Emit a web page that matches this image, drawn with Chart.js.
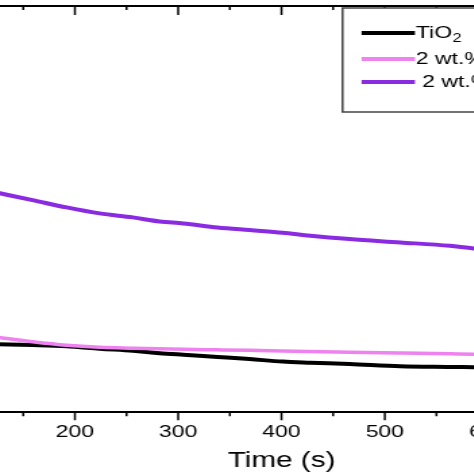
<!DOCTYPE html>
<html>
<head>
<meta charset="utf-8">
<script src="https://cdn.jsdelivr.net/npm/chart.js@4.4.1/dist/chart.umd.min.js"></script>
<style>
html, body { margin: 0; padding: 0; background: #fff; }
#wrap { position: relative; width: 474px; height: 474px; overflow: hidden; }
/* the reference is a stretched crop of a wider figure */
#c { position: absolute; left: -49.9px; top: 0; transform: scaleX(1.35); transform-origin: 0 0; }
</style>
</head>
<body>
<div id="wrap"><canvas id="c" width="491" height="474"></canvas></div>
<script>
// time axis (s)
const timeS = [125, 159, 192, 224, 256, 282, 305, 338, 369, 401, 428, 466, 515, 563, 586, 600];

// signal (arbitrary units, y axis is cropped away in the reference)
const tio2Values   = [0.68, 0.672, 0.66, 0.635, 0.613, 0.59, 0.574, 0.552, 0.531, 0.506, 0.495, 0.482, 0.46, 0.453, 0.45, 0.448];
const pinkValues   = [0.75, 0.705, 0.67, 0.65, 0.64, 0.633, 0.628, 0.623, 0.618, 0.612, 0.607, 0.60, 0.592, 0.584, 0.58, 0.578];
const purpleValues = [2.193, 2.12, 2.047, 1.987, 1.947, 1.907, 1.887, 1.847, 1.82, 1.793, 1.763, 1.73, 1.697, 1.663, 1.637, 1.63];

const seriesLabels = ['TiO\u2082', '2 wt.%', ' 2 wt.%'];
const seriesColors = ['#000000', '#ee82ee', '#8a2be2'];

const xTicks = [100, 200, 300, 400, 500, 600, 700];
const xTitle = 'Time (s)';

const FONT = '"Liberation Sans", Arial, sans-serif';

function toPoints(values) {
    return values.map((v, i) => ({ x: timeS[i], y: v }));
}

const frameTicks = {
    id: 'frameTicks',
    afterDatasetsDraw(chart) {
        const ctx = chart.ctx;
        const { top, bottom, left, right } = chart.chartArea;
        const xs = chart.scales.x;
        ctx.save();
        ctx.strokeStyle = '#000';
        ctx.lineWidth = 2;
        ctx.beginPath();
        ctx.moveTo(left, top); ctx.lineTo(right, top);
        ctx.moveTo(left, top); ctx.lineTo(left, bottom);
        ctx.moveTo(right, top); ctx.lineTo(right, bottom);
        ctx.stroke();
        ctx.lineWidth = 1.5;
        ctx.beginPath();
        for (let v = xs.min; v <= xs.max; v += 50) {
            const px = xs.getPixelForValue(v);
            const major = v % 100 === 0;
            ctx.moveTo(px, bottom); ctx.lineTo(px, bottom + (major ? 8 : 4));
            ctx.moveTo(px, top); ctx.lineTo(px, top + (major ? 9 : 4));
        }
        ctx.stroke();
        ctx.restore();
    }
};

const boxLegend = {
    id: 'boxLegend',
    afterDraw(chart) {
        const ctx = chart.ctx;
        const x0 = 290.8, y0 = 8, y1 = 112;
        const x1 = chart.chartArea.right - 4;
        ctx.save();
        ctx.fillStyle = '#fff';
        ctx.fillRect(x0, y0, x1 - x0, y1 - y0);
        ctx.strokeStyle = '#444';
        ctx.lineWidth = 1.5;
        ctx.strokeRect(x0, y0, x1 - x0, y1 - y0);
        const rows = [33, 59, 82];
        chart.data.datasets.forEach((ds, i) => {
            const y = rows[i];
            ctx.strokeStyle = ds.borderColor;
            ctx.lineWidth = 4;
            ctx.beginPath();
            ctx.moveTo(304.9, y); ctx.lineTo(344.4, y);
            ctx.stroke();
            ctx.fillStyle = '#000';
            ctx.textBaseline = 'middle';
            ctx.font = '17px ' + FONT;
            const label = ds.label;
            const sub = label.indexOf('\u2082');
            if (sub >= 0) {
                const main = label.slice(0, sub);
                ctx.fillText(main, 345.1, y);
                const w = ctx.measureText(main).width;
                ctx.font = '12px ' + FONT;
                ctx.fillText('2', 345.1 + w + 0.5, y + 6);
            } else {
                ctx.fillText(label, 345.1, y);
            }
        });
        ctx.restore();
    }
};

new Chart(document.getElementById('c'), {
    type: 'line',
    data: {
        datasets: [
            { label: seriesLabels[0], data: toPoints(tio2Values), borderColor: seriesColors[0], borderWidth: 4, order: 1 },
            { label: seriesLabels[1], data: toPoints(pinkValues), borderColor: seriesColors[1], borderWidth: 3.5, order: 0 },
            { label: seriesLabels[2], data: toPoints(purpleValues), borderColor: seriesColors[2], borderWidth: 4, order: 2 }
        ]
    },
    options: {
        responsive: false,
        animation: false,
        devicePixelRatio: 1,
        layout: { padding: { left: 16, right: 15.9, top: 6, bottom: 0 } },
        elements: {
            point: { radius: 0 },
            line: { cubicInterpolationMode: 'monotone', fill: false }
        },
        plugins: { legend: { display: false }, tooltip: { enabled: false } },
        scales: {
            x: {
                type: 'linear',
                min: xTicks[0],
                max: xTicks[xTicks.length - 1],
                afterBuildTicks(scale) { scale.ticks = xTicks.map(v => ({ value: v })); },
                afterFit(scale) { scale.paddingLeft = 0; scale.paddingRight = 0; },
                grid: { display: false, drawTicks: false },
                border: { display: true, color: '#000', width: 2 },
                ticks: { color: '#000', padding: 10, font: { family: FONT, size: 17 }, maxRotation: 0 },
                title: { display: true, text: xTitle, color: '#000', padding: { top: -5, bottom: 0 }, font: { family: FONT, size: 22 } }
            },
            y: { display: false, min: 0, max: 4.06 }
        }
    },
    plugins: [frameTicks, boxLegend]
});
</script>
</body>
</html>
